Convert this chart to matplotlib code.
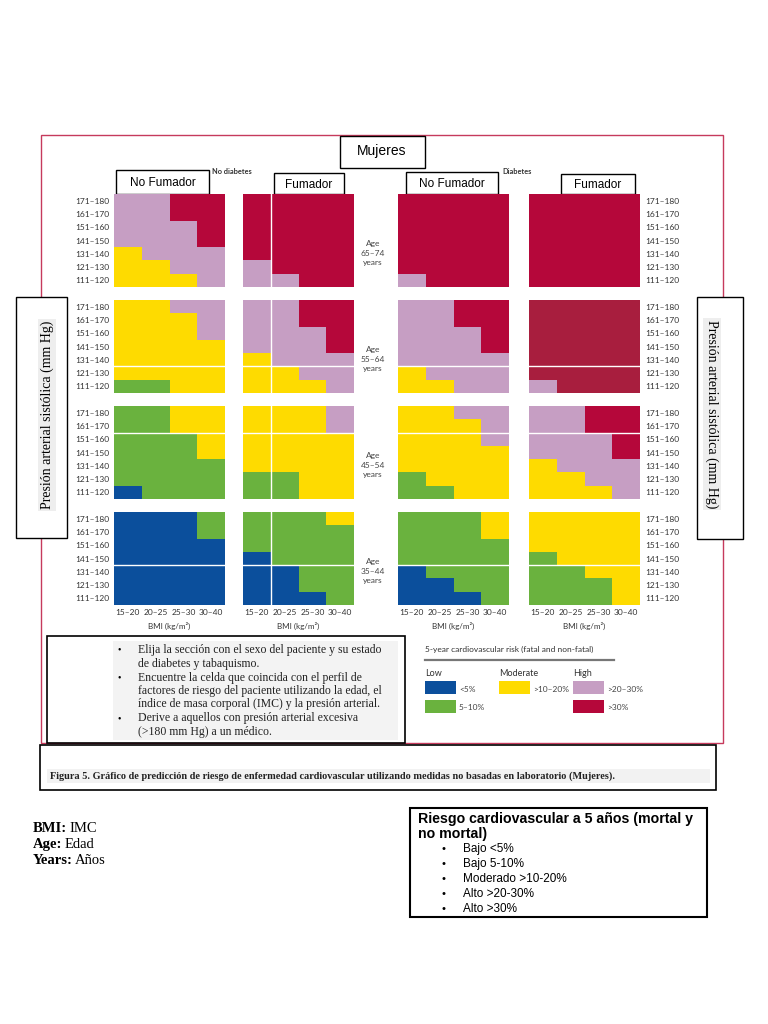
import numpy as np
import matplotlib
matplotlib.use('Agg')
import matplotlib.pyplot as plt
from matplotlib.colors import ListedColormap
from matplotlib.patches import Rectangle

W, H = 768, 1024

bp_labels = ['171–180', '161–170', '151–160', '141–150', '131–140', '121–130', '111–120']
bmi_labels = ['15–20', '20–25', '25–30', '30–40']
ages = ['65–74', '55–64', '45–54', '35–44']
risk_names = ['<5%', '5–10%', '>10–20%', '>20–30%', '>30%']
risk_colors = ['#0b4f9c', '#6ab23e', '#fedb00', '#c69ec3', '#b5073a']

# risk class per cell: 0 <5%, 1 5-10%, 2 >10-20%, 3 >20-30%, 4 >30%
# rows: SBP 171-180 (top) .. 111-120 (bottom); cols: BMI 15-20 .. 30-40
# order in each list: no diabetes non-smoker, no diabetes smoker, diabetes non-smoker, diabetes smoker
risk_65_74 = [
    [[3, 3, 4, 4], [3, 3, 4, 4], [3, 3, 3, 4], [3, 3, 3, 4], [2, 3, 3, 3], [2, 2, 3, 3], [2, 2, 2, 3]],
    [[4, 4, 4, 4], [4, 4, 4, 4], [4, 4, 4, 4], [4, 4, 4, 4], [4, 4, 4, 4], [3, 4, 4, 4], [3, 3, 4, 4]],
    [[4, 4, 4, 4], [4, 4, 4, 4], [4, 4, 4, 4], [4, 4, 4, 4], [4, 4, 4, 4], [4, 4, 4, 4], [3, 4, 4, 4]],
    [[4, 4, 4, 4], [4, 4, 4, 4], [4, 4, 4, 4], [4, 4, 4, 4], [4, 4, 4, 4], [4, 4, 4, 4], [4, 4, 4, 4]],
]
risk_55_64 = [
    [[2, 2, 3, 3], [2, 2, 2, 3], [2, 2, 2, 3], [2, 2, 2, 2], [2, 2, 2, 2], [2, 2, 2, 2], [1, 1, 2, 2]],
    [[3, 3, 4, 4], [3, 3, 4, 4], [3, 3, 3, 4], [3, 3, 3, 4], [2, 3, 3, 3], [2, 2, 3, 3], [2, 2, 2, 3]],
    [[3, 3, 4, 4], [3, 3, 4, 4], [3, 3, 3, 4], [3, 3, 3, 4], [3, 3, 3, 3], [2, 3, 3, 3], [2, 2, 3, 3]],
    [[4, 4, 4, 4], [4, 4, 4, 4], [4, 4, 4, 4], [4, 4, 4, 4], [4, 4, 4, 4], [4, 4, 4, 4], [3, 4, 4, 4]],
]
risk_45_54 = [
    [[1, 1, 2, 2], [1, 1, 2, 2], [1, 1, 1, 2], [1, 1, 1, 2], [1, 1, 1, 1], [1, 1, 1, 1], [0, 1, 1, 1]],
    [[2, 2, 2, 3], [2, 2, 2, 3], [2, 2, 2, 2], [2, 2, 2, 2], [2, 2, 2, 2], [1, 1, 2, 2], [1, 1, 2, 2]],
    [[2, 2, 3, 3], [2, 2, 2, 3], [2, 2, 2, 3], [2, 2, 2, 2], [2, 2, 2, 2], [1, 2, 2, 2], [1, 1, 2, 2]],
    [[3, 3, 4, 4], [3, 3, 4, 4], [3, 3, 3, 4], [3, 3, 3, 4], [2, 3, 3, 3], [2, 2, 3, 3], [2, 2, 2, 3]],
]
risk_35_44 = [
    [[0, 0, 0, 1], [0, 0, 0, 1], [0, 0, 0, 0], [0, 0, 0, 0], [0, 0, 0, 0], [0, 0, 0, 0], [0, 0, 0, 0]],
    [[1, 1, 1, 2], [1, 1, 1, 1], [1, 1, 1, 1], [0, 1, 1, 1], [0, 0, 1, 1], [0, 0, 1, 1], [0, 0, 0, 1]],
    [[1, 1, 1, 2], [1, 1, 1, 2], [1, 1, 1, 1], [1, 1, 1, 1], [0, 1, 1, 1], [0, 0, 1, 1], [0, 0, 0, 1]],
    [[2, 2, 2, 2], [2, 2, 2, 2], [2, 2, 2, 2], [1, 2, 2, 2], [1, 1, 2, 2], [1, 1, 1, 2], [1, 1, 1, 2]],
]
all_risk = [risk_65_74, risk_55_64, risk_45_54, risk_35_44]

instructions = [
    ['Elija la sección con el sexo del paciente y su estado', 'de diabetes y tabaquismo.'],
    ['Encuentre la celda que coincida con el perfil de',
     'factores de riesgo del paciente utilizando la edad, el',
     'índice de masa corporal (IMC) y la presión arterial.'],
    ['Derive a aquellos con presión arterial excesiva', '(>180 mm Hg) a un médico.'],
]
risk_es = ['Bajo <5%', 'Bajo 5-10%', 'Moderado >10-20%', 'Alto >20-30%', 'Alto >30%']

SANS = 'Liberation Sans'
SERIF = 'Liberation Serif'
SMALL = 'Lato'

fig = plt.figure(figsize=(W / 100, H / 100), dpi=100)
fig.patch.set_facecolor('white')

# full-page axis in pixel coordinates for boxes and text
bg = fig.add_axes([0, 0, 1, 1])
bg.set_xlim(0, W)
bg.set_ylim(H, 0)
bg.axis('off')


def box(x0, y0, x1, y1, lw=1.0, ec='black', fc='white', z=2):
    bg.add_patch(Rectangle((x0, y0), x1 - x0, y1 - y0, lw=lw, ec=ec, fc=fc, zorder=z))


# red frame around the chart
box(41, 135, 723, 743, lw=1.0, ec='#c63a5c', fc='none', z=1)

# headers
box(340, 136, 425, 168)
bg.text(382, 151, 'Mujeres', ha='center', va='center', fontsize=10, family=SANS, zorder=3)
headers = [(116, 170, 209, 194, 'No Fumador'), (274, 173, 344, 194, 'Fumador'),
           (406, 172, 498, 194, 'No Fumador'), (561, 174, 635, 194, 'Fumador')]
for x0, y0, x1, y1, t in headers:
    box(x0, y0, x1, y1)
    bg.text((x0 + x1) / 2, (y0 + y1) / 2 + 1, t, ha='center', va='center',
            fontsize=8.5, family=SANS, zorder=3)
bg.text(212, 171, 'No diabetes', fontsize=5.3, family=SMALL, weight='bold', color='#333333', va='center')
bg.text(502, 171, 'Diabetes', fontsize=5.3, family=SMALL, weight='bold', color='#333333', va='center')

# rotated side labels
box(16, 297, 67, 538, lw=1.0)
bg.text(47, 415, 'Presión arterial sistólica (mm Hg)', rotation=90, ha='center', va='center',
        fontsize=10, family=SERIF, zorder=3,
        bbox=dict(fc='#eeeeee', ec='none', pad=1.5))
box(697, 297, 743, 539, lw=1.0)
bg.text(712, 414, 'Presión arterial sistólica (mm Hg)', rotation=270, ha='center', va='center',
        fontsize=10, family=SERIF, zorder=3,
        bbox=dict(fc='#eeeeee', ec='none', pad=1.5))

# risk grids
cmap = ListedColormap(risk_colors)
panel_x = [114, 243, 398, 529]
panel_y = [194, 300, 406, 512]
pw, ph = 111, 93
# thin white seams visible in the source picture
h_seam = {0: None, 1: 5, 2: 2, 3: 4}

for a, age in enumerate(ages):
    for g in range(4):
        x0, y0 = panel_x[g], panel_y[a]
        ax = fig.add_axes([x0 / W, 1 - (y0 + ph) / H, pw / W, ph / H])
        grid = np.array(all_risk[a][g])
        cm = cmap
        if a == 1 and g == 3:
            cm = ListedColormap(risk_colors[:4] + ['#a81e3e'])
        ax.pcolormesh(np.arange(5), np.arange(8), grid, cmap=cm, vmin=-0.5, vmax=4.5)
        ax.set_xlim(0, 4)
        ax.set_ylim(7, 0)
        for s in ax.spines.values():
            s.set_visible(False)
        if h_seam[a] is not None:
            ax.axhline(h_seam[a], color='white', lw=1.0)
        if g == 1:
            ax.axvline(1, color='white', lw=1.0)
        ax.set_yticks(np.arange(7) + 0.5)
        if g == 0:
            ax.set_yticklabels(bp_labels, fontsize=6, family=SMALL, color='#333333')
            ax.tick_params(axis='y', length=0, pad=3)
        elif g == 3:
            ax.yaxis.tick_right()
            ax.set_yticklabels(bp_labels, fontsize=6, family=SMALL, color='#333333')
            ax.tick_params(axis='y', length=0, pad=4)
        else:
            ax.set_yticklabels([])
            ax.tick_params(axis='y', length=0)
        ax.set_xticks(np.arange(4) + 0.5)
        if a == 3:
            ax.set_xticklabels(bmi_labels, fontsize=6, family=SMALL, color='#333333')
            ax.tick_params(axis='x', length=0, pad=3)
            ax.set_xlabel('BMI (kg/m²)', fontsize=5.8, family=SMALL, color='#333333', labelpad=4)
        else:
            ax.set_xticklabels([])
            ax.tick_params(axis='x', length=0)
    bg.text(373, panel_y[a] + 59, 'Age\n' + age + '\nyears', ha='center', va='center',
            fontsize=6, family=SMALL, color='#444444', linespacing=1.35)

# instructions box
box(47, 636, 405, 743, lw=1.2)
bg.add_patch(Rectangle((113, 641), 285, 99, fc='#f3f3f3', ec='none', zorder=2.5))
line_y = 650
for item in instructions:
    bg.text(117, line_y, '•', fontsize=7, family=SERIF, va='center', zorder=3)
    for ln in item:
        bg.text(138, line_y, ln, fontsize=8.5, family=SERIF, va='center', color='#222222', zorder=3)
        line_y += 13.5
    line_y += 0.5

# legend
bg.text(425, 649, '5-year cardiovascular risk (fatal and non-fatal)', fontsize=6, family=SMALL,
        color='#333333', va='center')
bg.plot([425, 614], [660, 660], color='#777777', lw=1.6)
legend_pos = [(425, 681), (425, 700), (499, 681), (573, 681), (573, 700)]
for (lx, ly), c, name in zip(legend_pos, risk_colors, risk_names):
    bg.add_patch(Rectangle((lx, ly), 31, 13, fc=c, ec='none', zorder=3))
    bg.text(lx + 34, ly + 8, name, fontsize=6, family=SMALL, color='#444444', va='center')
for lx, t in [(425, 'Low'), (499, 'Moderate'), (573, 'High')]:
    bg.text(lx, 673, t, fontsize=6.5, family=SMALL, color='#333333', va='center')

# caption box
box(40, 745, 716, 790, lw=1.2)
bg.add_patch(Rectangle((47, 769), 663, 14, fc='#f2f2f2', ec='none', zorder=2.5))
bg.text(50, 776, 'Figura 5. Gráfico de predicción de riesgo de enfermedad cardiovascular utilizando '
        'medidas no basadas en laboratorio (Mujeres).', fontsize=7.4, family=SERIF, weight='bold',
        color='#222222', va='center', zorder=3)

# glossary
fig.canvas.draw()
for i, (k, v) in enumerate([('BMI:', 'IMC'), ('Age:', 'Edad'), ('Years:', 'Años')]):
    y = 829 + i * 15.5
    t = bg.text(33, y, k, fontsize=10.5, family=SERIF, weight='bold', va='center')
    bb = t.get_window_extent(renderer=fig.canvas.get_renderer())
    bg.text(33 + bb.width + 2, y, v, fontsize=10.5, family=SERIF, va='center')

# Spanish risk box
box(410, 808, 707, 917, lw=1.5)
bg.text(418, 819, 'Riesgo cardiovascular a 5 años (mortal y', fontsize=10.2, family=SANS,
        weight='bold', va='center', zorder=3)
bg.text(418, 834, 'no mortal)', fontsize=10.2, family=SANS, weight='bold', va='center', zorder=3)
for i, t in enumerate(risk_es):
    y = 849 + i * 15
    bg.text(441, y, '•', fontsize=8, family=SANS, va='center', zorder=3)
    bg.text(463, y, t, fontsize=8.5, family=SANS, va='center', zorder=3)

fig.savefig('out.png', dpi=100)
